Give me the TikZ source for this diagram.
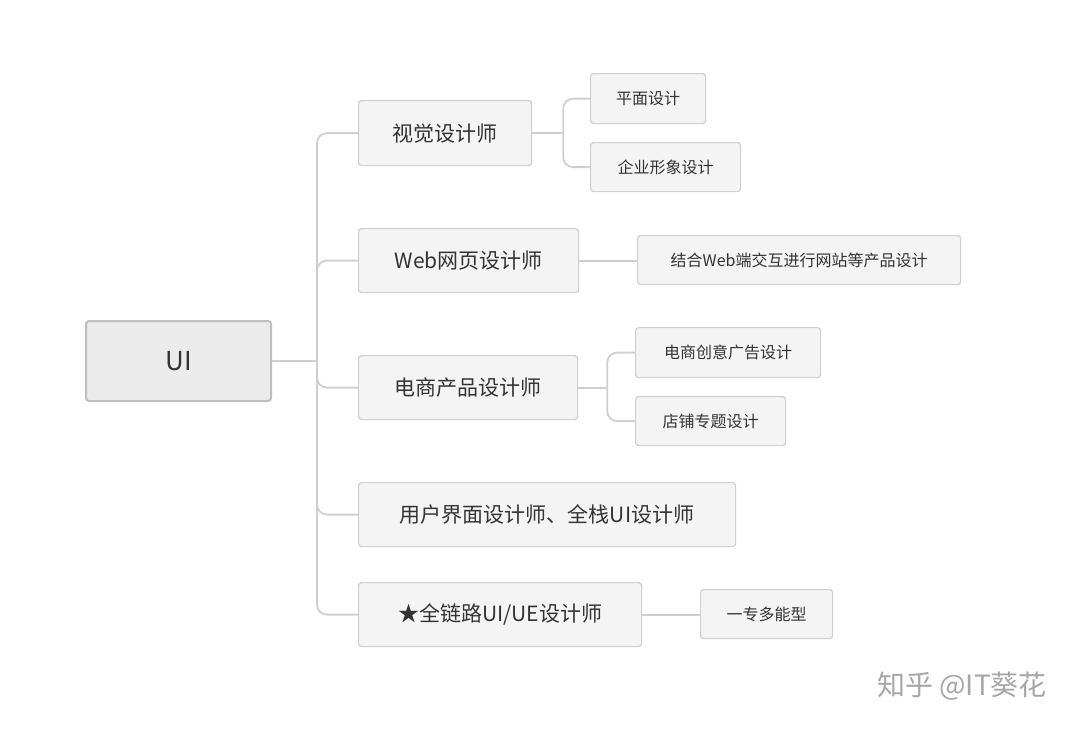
\documentclass[tikz,border=0pt]{standalone}
\usepackage{fontspec}
\setmainfont{Noto Sans CJK SC}
\usetikzlibrary{calc}
\definecolor{bd}{HTML}{CFCFCF}
\definecolor{fl}{HTML}{F4F4F4}
\definecolor{tx}{HTML}{333333}
\tikzset{
 box/.style={draw=bd,fill=fl,line width=1.2pt,rounded corners=3pt,text=tx,anchor=north west,inner sep=0pt,align=center},
 edge/.style={draw=bd,line width=1.8pt,rounded corners=10pt},
}
\begin{document}
\begin{tikzpicture}[x=1pt,y=-1pt]
\useasboundingbox (0,0) rectangle (1080,731);
\node[box,minimum width=185,minimum height=80,fill=black!8,draw=black!25,line width=2pt] (ui) at (85,320) {};
\node[text=tx,font=\fontsize{26}{26}\selectfont] at (ui.center) {UI};
\newcommand{\lab}[7]{\node[box,minimum width=#3-#2,minimum height=#5-#4,font=\fontsize{#6}{#6}\selectfont] (#1) at (#2,#4) {#7};}
\lab{a}{358}{531}{100}{165}{21}{视觉设计师}
\lab{b}{358}{578}{228}{292}{21}{Web网页设计师}
\lab{c}{358}{577}{355}{419}{21}{电商产品设计师}
\lab{d}{358}{735}{482}{546}{21}{用户界面设计师、全栈UI设计师}
\lab{e}{358}{641}{582}{646}{21}{★全链路UI/UE设计师}
\lab{a1}{590}{705}{73}{123}{16}{平面设计}
\lab{a2}{590}{740}{142}{191}{16}{企业形象设计}
\lab{b1}{637}{960}{235}{284}{16}{结合Web端交互进行网站等产品设计}
\lab{c1}{635}{820}{327}{377}{16}{电商创意广告设计}
\lab{c2}{635}{785}{396}{445}{16}{店铺专题设计}
\lab{e1}{700}{832}{589}{638}{16}{一专多能型}
\coordinate (t) at ($(ui.east)+(45,0)$);
\draw[edge] (ui.east) -- (t);
\foreach \n in {a,b,c,d,e} \draw[edge] (t) |- (\n.west);
\coordinate (ta) at ($(a.east)+(31,0)$);
\draw[edge] (a.east) -- (ta);
\draw[edge] (ta) |- (a1.west); \draw[edge] (ta) |- (a2.west);
\draw[edge] (b.east) -- (b.east -| b1.west);
\coordinate (tc) at ($(c.east)+(29,0)$);
\draw[edge] (c.east) -- (tc);
\draw[edge] (tc) |- (c1.west); \draw[edge] (tc) |- (c2.west);
\draw[edge] (e.east) -- (e.east -| e1.west);
\node[text=black!35,font=\fontsize{28}{28}\selectfont] (wm) at (962,686) {知乎 @IT葵花};
\end{tikzpicture}
\end{document}
